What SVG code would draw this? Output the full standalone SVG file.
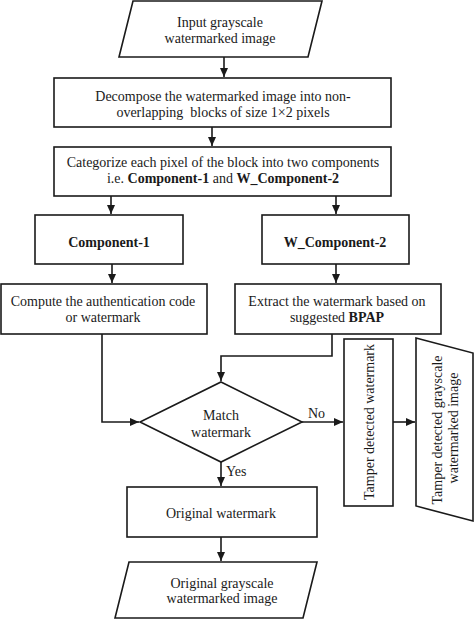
<svg xmlns="http://www.w3.org/2000/svg" width="474" height="620" viewBox="0 0 474 620">
<style>
.s{fill:#fff;stroke:#1a1a1a;stroke-width:1.6}
.c{fill:none;stroke:#1a1a1a;stroke-width:1.6}
text{font-family:"Liberation Serif","Times New Roman",serif;font-size:14px;fill:#1a1a1a;text-anchor:middle}
.b{font-weight:bold}
.l{text-anchor:start}
</style>
<defs>
<marker id="a" markerUnits="userSpaceOnUse" markerWidth="10" markerHeight="8" refX="9" refY="4" orient="auto">
<path d="M0,0 L9,4 L0,8 Z" fill="#1a1a1a"/>
</marker>
</defs>
<rect width="474" height="620" fill="#fff"/>
<g id="connectors" font-family="Liberation Serif, serif">
<line class="c" x1="224" y1="57" x2="224" y2="77" marker-end="url(#a)"/>
<line class="c" x1="212" y1="127" x2="212" y2="146" marker-end="url(#a)"/>
<line class="c" x1="111" y1="196" x2="111" y2="214" marker-end="url(#a)"/>
<line class="c" x1="336" y1="196" x2="336" y2="214" marker-end="url(#a)"/>
<line class="c" x1="112" y1="264" x2="112" y2="283" marker-end="url(#a)"/>
<line class="c" x1="336" y1="264" x2="336" y2="283" marker-end="url(#a)"/>
<polyline class="c" points="102,334 102,422 139,422" marker-end="url(#a)"/>
<polyline class="c" points="332,334 332,356 221,356 221,381" marker-end="url(#a)"/>
<line class="c" x1="302" y1="422" x2="343" y2="422" marker-end="url(#a)"/>
<line class="c" x1="393" y1="422" x2="415" y2="422" marker-end="url(#a)"/>
<line class="c" x1="221" y1="462" x2="221" y2="486" marker-end="url(#a)"/>
<line class="c" x1="221" y1="537" x2="221" y2="561" marker-end="url(#a)"/>
<text class="l" x="308" y="417.5">No</text>
<text class="l" x="226" y="476">Yes</text>
</g>
<g id="input">
<polygon class="s" points="133,1 322,1 308,57 119,57"/>
<text x="220" y="26.5">Input grayscale</text>
<text x="220" y="43">watermarked image</text>
</g>
<g id="decompose">
<rect class="s" x="54" y="78" width="337" height="49"/>
<text x="223" y="100.5">Decompose the watermarked image into non-</text>
<text x="223" y="116.5" xml:space="preserve">overlapping  blocks of size 1×2 pixels</text>
</g>
<g id="categorize">
<rect class="s" x="54" y="147" width="337" height="49"/>
<text x="223" y="166.5">Categorize each pixel of the block into two components</text>
<text x="223" y="182.5">i.e. <tspan class="b">Component-1</tspan> and <tspan class="b">W_Component-2</tspan></text>
</g>
<g id="comp1">
<rect class="s" x="35" y="215" width="148" height="49"/>
<text class="b" x="109" y="246.5">Component-1</text>
</g>
<g id="wcomp2">
<rect class="s" x="262" y="215" width="147" height="49"/>
<text class="b" x="335" y="246.5">W_Component-2</text>
</g>
<g id="compute">
<rect class="s" x="1" y="284" width="206" height="50"/>
<text x="103" y="305.5">Compute the authentication code</text>
<text x="103" y="321.5">or watermark</text>
</g>
<g id="extract">
<rect class="s" x="235" y="284" width="206" height="50"/>
<text x="337" y="305.5">Extract the watermark based on</text>
<text x="337" y="321.5">suggested <tspan class="b">BPAP</tspan></text>
</g>
<g id="match">
<polygon class="s" points="221,382 302,422 221,462 140,422"/>
<text x="221" y="419.5">Match</text>
<text x="221" y="436.5">watermark</text>
</g>
<g id="tamper">
<rect class="s" x="344" y="339" width="49" height="167"/>
<text transform="translate(374,422) rotate(-90)">Tamper detected watermark</text>
</g>
<g id="tamperimage">
<polygon class="s" points="416,338 473,353 473,521 416,506"/>
<text transform="translate(441.5,430) rotate(-90)">Tamper detected grayscale</text>
<text transform="translate(457.5,428) rotate(-90)">watermarked image</text>
</g>
<g id="original">
<rect class="s" x="127" y="487" width="190" height="50"/>
<text x="221" y="517.5">Original watermark</text>
</g>
<g id="output">
<polygon class="s" points="129,562 317,562 303,618 115,618"/>
<text x="222" y="587.5">Original grayscale</text>
<text x="222" y="602.5">watermarked image</text>
</g>
</svg>
